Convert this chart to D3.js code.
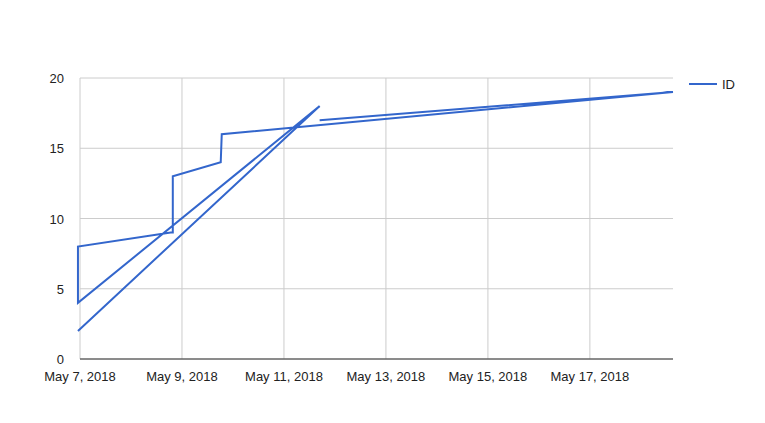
<!DOCTYPE html>
<html>
<head>
<style>
  body { margin: 0; background: #fff; }
  text { font-family: "Liberation Sans", Arial, sans-serif; font-size: 13px; fill: #222; }
</style>
</head>
<body>
<script src="https://cdn.jsdelivr.net/npm/d3@7"></script>
<script>
// points in drawing order: day offset from May 7 2018, ID
var days = [-0.04, 4.7, -0.04, -0.04, -0.04, 1.78, 1.82, 1.82, 1.82, 1.82, 2.76, 2.78, 11.63, 4.7];
var ids  = [2,     18,  4,     5,     8,     9,    9,    12,   13,   13,   14,   16,   19,    17];
var xTicks = [0, 2, 4, 6, 8, 10];
var yTicks = [0, 5, 10, 15, 20];

var W = 765, H = 423;
var margin = {top: 78, right: 92, bottom: 64, left: 80};
var width = W - margin.left - margin.right,
    height = H - margin.top - margin.bottom;

var base = Date.UTC(2018, 4, 7);
var dayMs = 86400000;
var months = ["Jan","Feb","Mar","Apr","May","Jun","Jul","Aug","Sep","Oct","Nov","Dec"];

var svg = d3.select("body").append("svg")
  .attr("width", W).attr("height", H);
var g = svg.append("g").attr("transform", "translate(" + margin.left + "," + margin.top + ")");

var x = d3.scaleUtc().domain([new Date(base), new Date(base + 11.63 * dayMs)]).range([0, width]);
var y = d3.scaleLinear().domain([0, 20]).range([height, 0]);

// grid
g.selectAll(".hg").data(yTicks).enter().append("line")
  .attr("x1", 0).attr("x2", width)
  .attr("y1", function(d) { return y(d); }).attr("y2", function(d) { return y(d); })
  .attr("stroke", "#ccc");
g.selectAll(".vg").data(xTicks).enter().append("line")
  .attr("y1", 0).attr("y2", height)
  .attr("x1", function(d) { return x(new Date(base + d * dayMs)); })
  .attr("x2", function(d) { return x(new Date(base + d * dayMs)); })
  .attr("stroke", "#ccc");
g.append("line").attr("x1", 0).attr("x2", width).attr("y1", height).attr("y2", height)
  .attr("stroke", "#333");

// labels
g.selectAll(".yl").data(yTicks).enter().append("text")
  .attr("x", -16).attr("y", function(d) { return y(d) + 5; })
  .attr("text-anchor", "end").text(function(d) { return d; });
g.selectAll(".xl").data(xTicks).enter().append("text")
  .attr("x", function(d) { return x(new Date(base + d * dayMs)); })
  .attr("y", height + 22).attr("text-anchor", "middle")
  .text(function(d) {
    var dt = new Date(base + d * dayMs);
    return months[dt.getUTCMonth()] + " " + dt.getUTCDate() + ", " + dt.getUTCFullYear();
  });

// line
var pts = days.map(function(d, i) { return [new Date(base + d * dayMs), ids[i]]; });
var line = d3.line().x(function(d) { return x(d[0]); }).y(function(d) { return y(d[1]); });
g.append("path").datum(pts).attr("d", line)
  .attr("fill", "none").attr("stroke", "#3366cc").attr("stroke-width", 2);

// legend
svg.append("line").attr("x1", 689).attr("x2", 717).attr("y1", 84).attr("y2", 84)
  .attr("stroke", "#3366cc").attr("stroke-width", 2);
svg.append("text").attr("x", 722).attr("y", 89).text("ID");
</script>
</body>
</html>
